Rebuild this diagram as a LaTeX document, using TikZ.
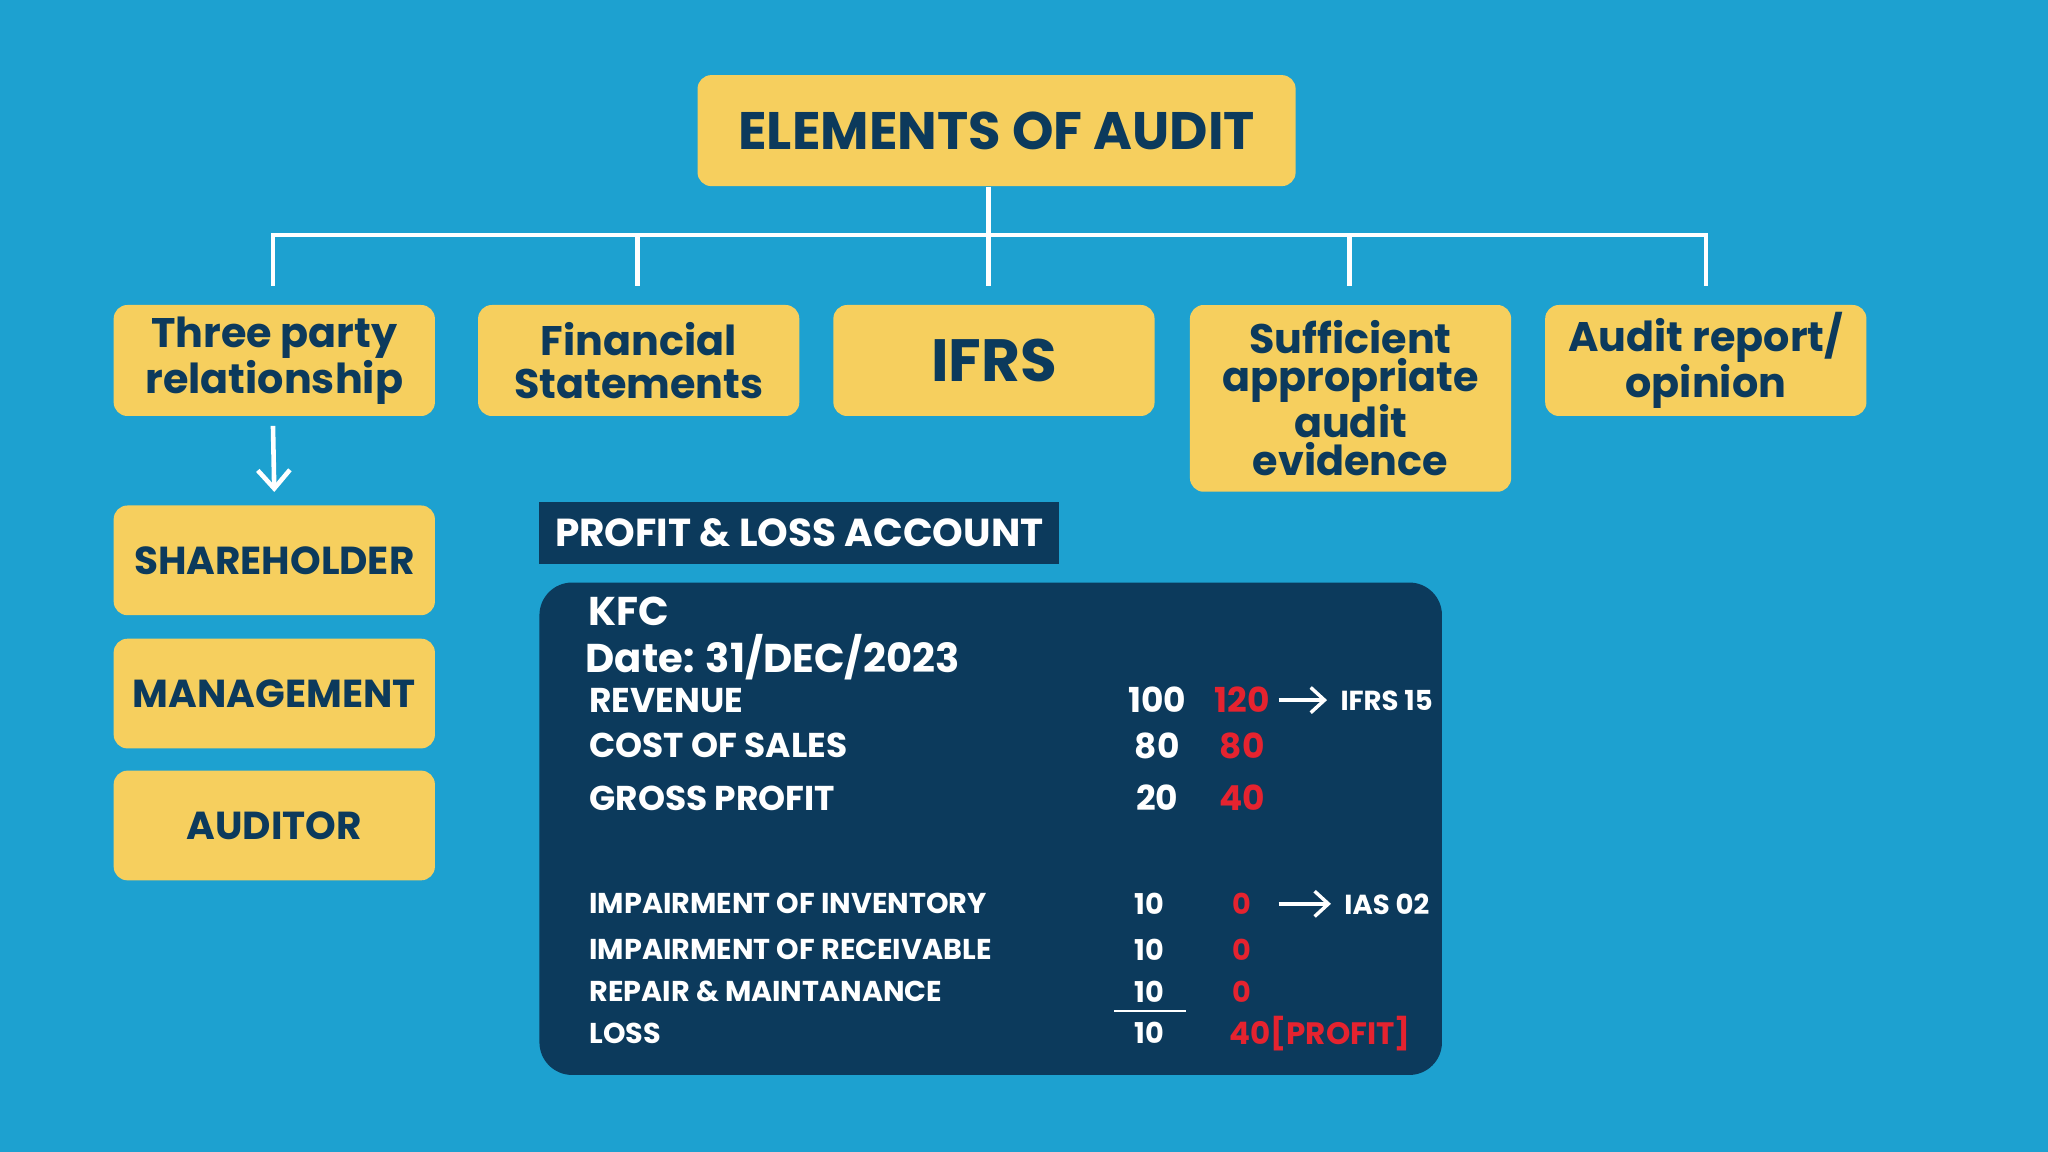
\documentclass[tikz,border=0pt]{standalone}
\usepackage{fontspec}
\setmainfont{Poppins}
\usetikzlibrary{arrows.meta,positioning}
\definecolor{bgblue}{HTML}{1DA1D0}
\definecolor{boxyellow}{HTML}{F6CF5E}
\definecolor{navy}{HTML}{0C3A5C}
\definecolor{pnlred}{HTML}{E5232F}
\tikzset{
  ybox/.style={fill=boxyellow,rounded corners=6pt,text=navy,font=\bfseries\fontsize{18}{19}\selectfont,
    align=center,inner sep=0pt},
  link/.style={draw=white,line width=2pt},
  row/.style={anchor=west,text=white,font=\fontsize{15}{15}\selectfont\bfseries,inner sep=0pt},
  srow/.style={anchor=west,text=white,font=\fontsize{12.5}{12.5}\selectfont\bfseries,inner sep=0pt},
  val/.style={text=white,font=\fontsize{15}{15}\selectfont\bfseries,inner sep=0pt},
  sval/.style={text=white,font=\fontsize{12.5}{12.5}\selectfont\bfseries,inner sep=0pt},
}
\begin{document}
\begin{tikzpicture}[x=0.02cm,y=-0.02cm]
  \fill[bgblue] (0,0) rectangle (1568,882);
  \useasboundingbox (0,0) rectangle (1568,882);

  % Titel
  \node[ybox,minimum width=9.16cm,minimum height=1.7cm,font=\bfseries\fontsize{23}{23}\selectfont] (title) at (763,100) {ELEMENTS OF AUDIT};

  % Elemente
  \node[ybox,minimum width=4.92cm,minimum height=1.7cm] (three) at (210,276) {Three party\\relationship};
  \node[ybox,minimum width=4.92cm,minimum height=1.7cm] (fin) at (489,276) {Financial\\Statements};
  \node[ybox,minimum width=4.92cm,minimum height=1.7cm,font=\bfseries\fontsize{26}{26}\selectfont] (ifrs) at (761,276) {IFRS};
  \node[ybox,minimum width=4.92cm,minimum height=2.86cm,font=\bfseries\fontsize{18}{16.5}\selectfont] (suff) at (1034,305) {Sufficient\\appropriate\\audit\\evidence};
  \node[ybox,minimum width=4.92cm,minimum height=1.7cm] (opin) at (1306,276) {Audit report/\\opinion};

  % Verbindungen
  \coordinate (hub) at (757,180);
  \draw[link] (title.south -| hub) -- (hub);
  \draw[link] (209,219) -- (209,180) -- (1306,180) -- (1306,219);
  \foreach \x in {488,757,1033}
    \draw[link] (\x,180) -- (\x,219);

  % Parteien
  \node[ybox,minimum width=4.92cm,minimum height=1.68cm,font=\bfseries\fontsize{17}{17}\selectfont] (share) at (210,429) {SHAREHOLDER};
  \node[ybox,minimum width=4.92cm,minimum height=1.68cm,font=\bfseries\fontsize{17}{17}\selectfont] (mgmt) at (210,531) {MANAGEMENT};
  \node[ybox,minimum width=4.92cm,minimum height=1.68cm,font=\bfseries\fontsize{17}{17}\selectfont] (aud) at (210,632) {AUDITOR};
  \coordinate (arrtop) at (209,326);
  \draw[link,-{Straight Barb[length=8pt,width=14pt]}] (arrtop) -- ([yshift=0.2cm]share.north);

  % Konto
  \node[fill=navy,text=white,minimum width=7.96cm,minimum height=0.94cm,inner sep=0pt,
    font=\bfseries\fontsize{17}{17}\selectfont] (plhead) at (612,408) {PROFIT \& LOSS ACCOUNT};
  \fill[navy,rounded corners=0.5cm] (413,446) rectangle (1104,823);

  \node[row,font=\fontsize{17.5}{17.5}\selectfont\bfseries] (kfc) at (450,468) {KFC};
  \node[row,font=\fontsize{17.5}{17.5}\selectfont\bfseries] (date) at (448,503) {Date: 31/DEC/2023};
  \node[row] (rev) at (451,536) {REVENUE};
  \node[row] (cos) at (451,571) {COST OF SALES};
  \node[row] (gp) at (451,611) {GROSS PROFIT};
  \node[val] (rev1) at (886,536) {100};
  \node[val] (cos1) at (886,571) {80};
  \node[val] (gp1) at (886,611) {20};
  \node[val,text=pnlred] (rev2) at (951,536) {120};
  \node[val,text=pnlred] (cos2) at (951,571) {80};
  \node[val,text=pnlred] (gp2) at (951,611) {40};
  \node[sval,anchor=west,font=\fontsize{12}{12}\selectfont\bfseries] (ifrs15) at (1026,536) {IFRS 15};
  \coordinate (a1) at (979,536);
  \draw[white,line width=1.5pt,-{Straight Barb[length=6pt,width=11pt]}] (a1) -- ([xshift=-0.2cm]ifrs15.west);

  \node[srow] (inv) at (451,692) {IMPAIRMENT OF INVENTORY};
  \node[srow] (rec) at (451,727) {IMPAIRMENT OF RECEIVABLE};
  \node[srow] (rep) at (451,759) {REPAIR \& MAINTANANCE};
  \node[srow] (loss) at (451,791) {LOSS};
  \node[sval] (inv1) at (880,692) {10};
  \node[sval] (rec1) at (880,727) {10};
  \node[sval] (rep1) at (880,759) {10};
  \node[sval] (loss1) at (880,791) {10};
  \node[sval,text=pnlred] (inv2) at (951,692) {0};
  \node[sval,text=pnlred] (rec2) at (951,727) {0};
  \node[sval,text=pnlred] (rep2) at (951,759) {0};
  \node[sval,text=pnlred,anchor=west,font=\fontsize{13.5}{13.5}\selectfont\bfseries] (loss2) at (941,791) {40[PROFIT]};
  \node[sval,anchor=west,font=\fontsize{12}{12}\selectfont\bfseries] (ias) at (1029,692) {IAS 02};
  \coordinate (a2) at (979,692);
  \draw[white,line width=1.5pt,-{Straight Barb[length=6pt,width=11pt]}] (a2) -- ([xshift=-0.2cm]ias.west);
  \coordinate (ulL) at (853,774);
  \coordinate (ulR) at (908,774);
  \draw[white,line width=1.2pt] (ulL) -- (ulR);
\end{tikzpicture}
\end{document}
